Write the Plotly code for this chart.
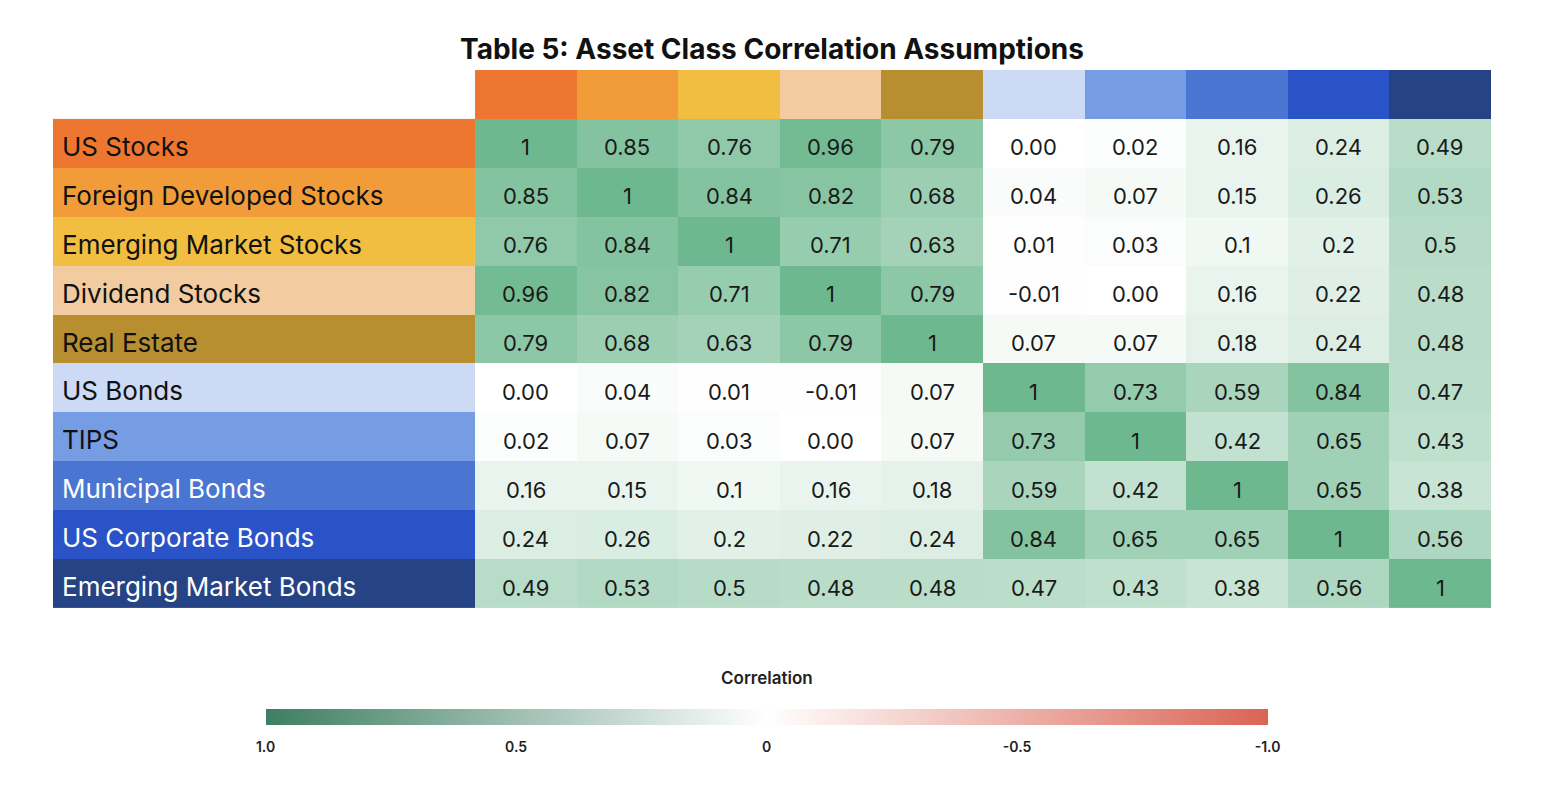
import plotly.graph_objects as go

title = "Table 5: Asset Class Correlation Assumptions"
assets = ["US Stocks", "Foreign Developed Stocks", "Emerging Market Stocks", "Dividend Stocks",
          "Real Estate", "US Bonds", "TIPS", "Municipal Bonds", "US Corporate Bonds",
          "Emerging Market Bonds"]
asset_colors = ["#ED7730", "#F19C38", "#F1BE42", "#F2CBA0", "#B78F30",
                "#CCDAF5", "#769CE3", "#4A76D1", "#2953C6", "#264485"]
label_font_colors = ["#111111"] * 7 + ["#FFFFFF"] * 3

corr_text = [
    ["1", "0.85", "0.76", "0.96", "0.79", "0.00", "0.02", "0.16", "0.24", "0.49"],
    ["0.85", "1", "0.84", "0.82", "0.68", "0.04", "0.07", "0.15", "0.26", "0.53"],
    ["0.76", "0.84", "1", "0.71", "0.63", "0.01", "0.03", "0.1", "0.2", "0.5"],
    ["0.96", "0.82", "0.71", "1", "0.79", "-0.01", "0.00", "0.16", "0.22", "0.48"],
    ["0.79", "0.68", "0.63", "0.79", "1", "0.07", "0.07", "0.18", "0.24", "0.48"],
    ["0.00", "0.04", "0.01", "-0.01", "0.07", "1", "0.73", "0.59", "0.84", "0.47"],
    ["0.02", "0.07", "0.03", "0.00", "0.07", "0.73", "1", "0.42", "0.65", "0.43"],
    ["0.16", "0.15", "0.1", "0.16", "0.18", "0.59", "0.42", "1", "0.65", "0.38"],
    ["0.24", "0.26", "0.2", "0.22", "0.24", "0.84", "0.65", "0.65", "1", "0.56"],
    ["0.49", "0.53", "0.5", "0.48", "0.48", "0.47", "0.43", "0.38", "0.56", "1"],
]
colorbar_title = "Correlation"
colorbar_tickvals = [-1, -0.5, 0, 0.5, 1]
colorbar_ticktext = ["1.0", "0.5", "0", "-0.5", "-1.0"]

corr = [[float(v) for v in row] for row in corr_text]
n = len(assets)
idx = list(range(n))
label_width = 4.154  # label column width in cell units
FONT = "Inter, Liberation Sans, Arial"

def discrete_scale(colors):
    k = len(colors)
    sc = []
    for i, c in enumerate(colors):
        sc.append([i / k, c])
        sc.append([(i + 1) / k, c])
    return sc

fig = go.Figure()

# correlation cells
fig.add_trace(go.Heatmap(
    z=corr, x=idx, y=idx,
    colorscale=[[0, "#F4A89C"], [0.5, "#FFFFFF"], [1, "#6DB88E"]],
    zmin=-1, zmax=1, showscale=False, hoverinfo="skip"))

# header colour strip
fig.add_trace(go.Heatmap(
    z=[idx], x=idx, y=[-1], colorscale=discrete_scale(asset_colors),
    zmin=-0.5, zmax=n - 0.5, showscale=False, hoverinfo="skip"))

# row label colour column
fig.add_trace(go.Heatmap(
    z=[[i] for i in idx], x=[-0.5 - label_width, -0.5], y=idx,
    colorscale=discrete_scale(asset_colors),
    zmin=-0.5, zmax=n - 0.5, showscale=False, hoverinfo="skip"))

# colorbar carrier (reversed direction: 1.0 at left)
fig.add_trace(go.Scatter(
    x=[None] * n, y=[None] * n, mode="markers", hoverinfo="skip", showlegend=False,
    marker=dict(color=[-row[0] for row in corr], cmin=-1, cmax=1, size=0,
                colorscale=[[0, "#3E7E62"], [0.5, "#FFFFFF"], [1, "#DA6454"]],
                showscale=True,
                colorbar=dict(orientation="h", x=0.4962, xanchor="center",
                              y=-0.2026 + 18 / 538, yanchor="top", len=0.711,
                              lenmode="fraction", thickness=16, outlinewidth=0,
                              ticks="outside", ticklen=11, tickcolor="rgba(0,0,0,0)",
                              tickvals=colorbar_tickvals, ticktext=colorbar_ticktext,
                              tickfont=dict(family=FONT, size=14, color="#222", weight=600)))))

fig.add_annotation(x=0.4962, y=(608 - 678) / 538, xref="paper", yref="paper",
                   text=colorbar_title, showarrow=False, xanchor="center", yanchor="middle",
                   font=dict(family=FONT, size=17, color="#222", weight=600))

# cell values
for i in range(n):
    for j in range(n):
        fig.add_annotation(x=j, y=i, text=corr_text[i][j], showarrow=False,
                           xanchor="center", yanchor="middle", yshift=-4,
                           font=dict(family=FONT, size=22, color="#1a1a1a"))

# row labels
for i, name in enumerate(assets):
    fig.add_annotation(x=-0.5 - label_width, y=i, text=name, xanchor="left", xshift=7,
                       yshift=-3, showarrow=False,
                       font=dict(family=FONT, size=26, color=label_font_colors[i]))

fig.update_xaxes(range=[-0.5 - label_width, n - 0.5], visible=False, showgrid=False,
                 zeroline=False)
fig.update_yaxes(range=[n - 0.5, -1.5], visible=False, showgrid=False, zeroline=False)

fig.update_layout(
    width=1564, height=800,
    margin=dict(l=45, r=81, t=62, b=200),
    paper_bgcolor="white", plot_bgcolor="white",
    title=dict(text="<b>" + title + "</b>", x=0.5, xref="paper", xanchor="center",
               y=1 - 41 / 800, yanchor="middle",
               font=dict(family=FONT, size=28, color="#111")),
    showlegend=False)

fig.write_html("out.html")
